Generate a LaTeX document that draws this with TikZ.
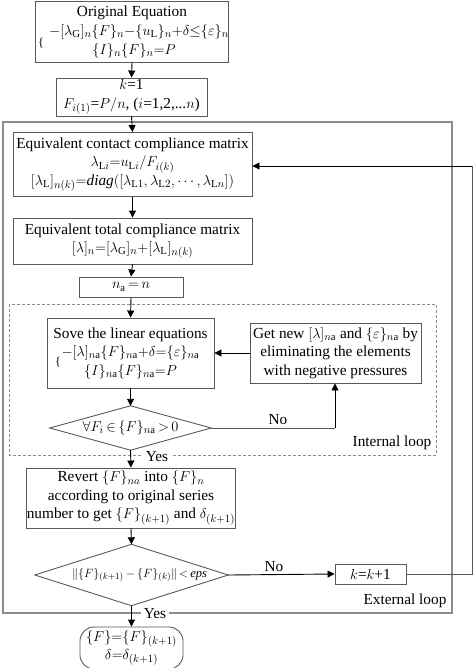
\documentclass[tikz,border=0pt]{standalone}
\usepackage{fontspec}
\setmainfont{Liberation Serif}
\usetikzlibrary{arrows.meta}
\definecolor{lc}{gray}{0.35}
\definecolor{dc}{gray}{0.55}
\tikzset{
  txt/.style={font=\fontsize{15.3}{18.5}\selectfont, align=center, inner sep=0pt},
  box/.style={txt, draw=lc, line width=0.9pt, fill=white},
  ln/.style={draw=lc, line width=0.9pt},
  arr/.style={ln, -{Triangle[length=7pt,width=7pt]}, color=black},
  lbl/.style={txt, fill=white, inner xsep=3pt, inner ysep=1pt},
  brc/.style={font=\fontsize{12}{12}\selectfont, inner sep=0pt},
}
\newcommand{\rmsub}[1]{\mathrm{#1}}
\begin{document}
\begin{tikzpicture}[x=1pt,y=-1pt]
\useasboundingbox (0,0) rectangle (474,668);
\medmuskip=0mu \thickmuskip=0mu
% outer loop box and internal dashed box
\draw[draw=dc, line width=1.6pt] (3,122) rectangle (452,613);
\draw[draw=dc, line width=0.9pt, dashed, dash pattern=on 3pt off 2pt] (9,304) rectangle (436,455);
% boxes
\node[box, minimum width=192, minimum height=61] (orig) at (132,31.5)
  {Original Equation\\[1pt]
   \hspace*{14pt}$-[\lambda_{\rmsub{G}}]_n\{F\}_n-\{u_{\rmsub{L}}\}_n+\delta\le\{\varepsilon\}_n$\\
   \hspace*{4pt}$\{I\}_n\{F\}_n=P$};
\node[brc] (ob) at (41,43) {\{};
\node[box, minimum width=151, minimum height=38] (k1) at (131.5,97)
  {$k$=1\\ $F_{i(1)}$=$P/n$, ($i$=1,2,...$n$)};
\node[box, minimum width=239, minimum height=64] (cont) at (132.5,164.5)
  {Equivalent contact compliance matrix\\
   $\lambda_{\rmsub{L}i}=u_{\rmsub{L}i}/F_{i(k)}$\\
   $[\lambda_{\rmsub{L}}]_{n(k)}=\mathit{diag}([\lambda_{\rmsub{L}1},\lambda_{\rmsub{L}2},\cdots,\lambda_{\rmsub{L}n}])$};
\node[box, minimum width=239, minimum height=46] (tot) at (132.5,241)
  {Equivalent total compliance matrix\\
   $[\lambda]_n=[\lambda_{\rmsub{G}}]_n+[\lambda_{\rmsub{L}}]_{n(k)}$};
\node[box, minimum width=104, minimum height=20] (na) at (131,287)
  {$n_{\rmsub{a}}\mathrel{\,=\,}n$};
\node[box, minimum width=167, minimum height=70] (sove) at (130.5,353)
  {Sove the linear equations\\
   $-[\lambda]_{n\rmsub{a}}\{F\}_{n\rmsub{a}}+\delta=\{\varepsilon\}_{n\rmsub{a}}$\\
   $\{I\}_{n\rmsub{a}}\{F\}_{n\rmsub{a}}=P$};
\node[brc] (sb) at (58,362) {\{};
\node[box, minimum width=171, minimum height=60] (getn) at (335.5,353)
  {Get new $[\lambda]_{n\rmsub{a}}$ and $\{\varepsilon\}_{n\rmsub{a}}$ by\\
   eliminating the elements\\
   with negative pressures};
% diamond 1
\node[txt, minimum width=161, minimum height=44] (d1) at (130.5,428)
  {$\forall F_i\mathrel{\,\in\,}\{F\}_{n\rmsub{a}}\mathrel{\,>\,}0$};
\draw[ln] (d1.west) -- (d1.north) -- (d1.east) -- (d1.south) -- cycle;
\node[box, minimum width=194, minimum height=60] (rev) at (131,498)
  {Revert $\{F\}_{na}$ into $\{F\}_n$\\
   according to original series\\
   number to get $\{F\}_{(k+1)}$ and $\delta_{(k+1)}$};
% diamond 2
\node[minimum width=193, minimum height=61, inner sep=0pt] (d2) at (131.5,575) {};
\draw[ln] (d2.west) -- (d2.north) -- (d2.east) -- (d2.south) -- cycle;
\node[txt, font=\fontsize{12.5}{15}\selectfont] (d2t) at (139.5,575)
  {$\bigl\|\{F\}_{(k+1)}\mathbin{\,-\,}\{F\}_{(k)}\bigr\|\mathrel{\,<\,}\mathit{eps}$};
\node[box, minimum width=71, minimum height=20] (kk) at (370.5,574)
  {$k$=$k$+1};
\node[box, rounded corners=14pt, minimum width=103, minimum height=42] (term) at (131.5,648)
  {$\{F\}=\{F\}_{(k+1)}$\\ $\delta=\delta_{(k+1)}$};
% connectors
\draw[arr] (orig.south) -- (k1.north);
\draw[arr] (k1.south) -- (cont.north);
\draw[arr] (cont.south) -- (tot.north);
\draw[arr] (tot.south) -- (na.north);
\draw[arr] (na.south) -- (sove.north);
\draw[arr] (sove.south) -- (d1.north);
\draw[arr] (getn.west) -- (sove.east);
\coordinate (c1) at (335,428);
\draw[ln] (d1.east) -- (c1);
\draw[arr] (c1) -- (getn.south -| c1);
\draw[arr] (d1.south) -- (rev.north);
\draw[arr] (rev.south) -- (d2.north);
\draw[arr] (d2.east) -- (kk.west);
\draw[arr] (d2.south) -- (term.north);
\coordinate (c2) at (472,574);
\coordinate (c3) at (472,166);
\draw[ln] (kk.east) -- (c2) -- (c3);
\draw[arr] (c3) -- (c3 -| cont.east);
% labels
\node[txt] (no1) at (278,420) {No};
\node[txt] (no2) at (274,567) {No};
\node[lbl] (yes1) at (157,457) {Yes};
\node[lbl] (yes2) at (155,614) {Yes};
\node[txt] (il) at (392,443) {Internal loop};
\node[txt] (el) at (405,601) {External loop};
\end{tikzpicture}
\end{document}
